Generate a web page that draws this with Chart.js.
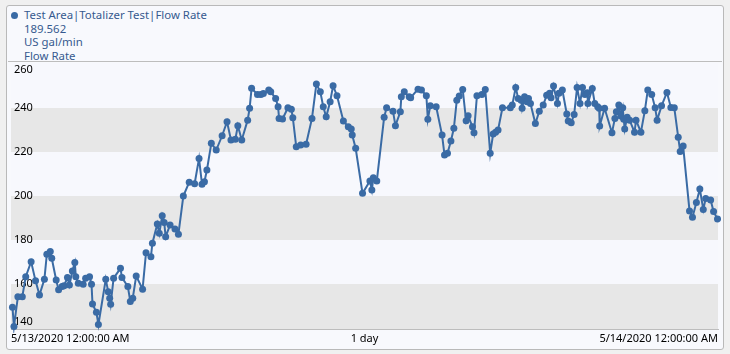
<!DOCTYPE html>
<html><head><meta charset="utf-8">
<script src="https://cdn.jsdelivr.net/npm/chart.js@4/dist/chart.umd.min.js"></script>
<style>
html,body{margin:0;padding:0;background:#f0f0f0;width:730px;height:354px;overflow:hidden;font-family:"Noto Sans",sans-serif;}
#panel{position:absolute;left:6px;top:5px;width:716px;height:343px;border:1px solid #b9b9b9;border-radius:3px;background:#f8f9fd;}
#dot{position:absolute;left:10.5px;top:11.5px;width:7px;height:7px;border-radius:50%;background:#3a6ba5;}
#legend{position:absolute;left:24px;top:8px;font-size:11.4px;line-height:13.5px;color:#36598f;white-space:nowrap;}
#sep{position:absolute;left:8px;top:61px;width:714px;height:1px;background:#bdbdbd;}
#wrap{position:absolute;left:8px;top:63px;width:713px;height:285px;}
</style>
</head><body>
<div id="panel"></div>
<div id="dot"></div>
<div id="legend"><div id="l1"></div><div id="l2"></div><div id="l3"></div><div id="l4"></div></div>
<div id="sep"></div>
<div id="wrap"><canvas id="c"></canvas></div>
<script>
// minutes since 5/13/2020 00:00
const times = [
 3,6,14,23,30,41,50,58,68,73,
 80,83,92,97,104,108,115,119,125,130,
 132,137,147,152,160,164,166,174,178,193,
 198,201,203,209,223,226,238,243,248,255,
 268,275,285,288,298,302,308,312,315,324,
 334,341,351,363,374,383,389,394,399,408,
 418,430,440,448,457,462,470,482,486,490,
 502,509,514,525,529,539,544,546,553,564,
 571,574,581,590,601,613,622,630,636,642,
 650,656,664,677,687,693,695,702,716,731,
 735,738,745,760,765,778,783,793,795,801,
 811,814,829,836,846,849,854,866,878,883,
 889,896,902,908,913,920,927,931,940,943,
 949,959,966,976,982,987,992,1001,1017,1021,
 1028,1033,1039,1041,1046,1051,1054,1058,1068,1076,
 1084,1091,1097,1100,1105,1113,1116,1123,1132,1135,
 1141,1147,1153,1159,1164,1169,1174,1175,1184,1189,
 1195,1198,1199,1209,1224,1230,1233,1238,1242,1246,
 1248,1250,1255,1260,1270,1273,1283,1291,1297,1305,
 1312,1316,1325,1336,1344,1351,1359,1363,1369,1382,
 1388,1396,1403,1410,1415,1425,1431,1439
];
const flow = [
 149.4,140.6,154.2,154.2,163.3,170.1,161.4,155.0,162.1,173.5,
 174.7,171.7,161.8,157.3,158.8,159.2,162.9,159.5,165.9,169.7,
 163.3,160.3,159.9,162.6,163.3,159.9,150.9,147.1,141.5,162.1,
 156.5,153.5,150.8,162.6,167.1,162.9,158.8,152.0,153.5,163.6,
 157.6,174.2,172.4,178.5,187.3,183.0,191.0,188.0,181.5,186.8,
 185.0,182.6,200.0,206.3,205.6,217.1,205.3,206.5,211.8,224.0,
 220.9,227.4,233.8,225.5,225.8,232.0,225.5,234.5,239.9,249.0,
 246.2,246.2,246.6,248.2,247.4,244.4,240.6,235.3,235.0,240.1,
 239.5,235.6,222.4,223.2,223.5,235.3,250.9,247.4,240.6,236.0,
 242.9,250.1,245.6,234.1,231.5,230.5,227.7,221.7,201.2,206.8,
 202.7,208.3,206.8,235.8,240.1,238.6,232.0,238.3,245.1,247.4,
 245.1,244.7,248.6,248.2,245.6,234.9,241.0,240.6,227.7,218.6,
 219.4,225.0,230.8,243.6,245.5,248.5,234.2,236.5,231.5,228.8,
 245.6,246.2,248.5,219.4,228.2,229.0,230.0,240.1,240.1,241.4,
 249.4,244.4,243.6,239.9,245.1,242.9,244.4,242.1,233.0,238.6,
 241.4,245.8,246.7,244.7,250.0,242.1,246.7,248.2,237.3,234.1,
 233.3,237.1,249.4,242.1,249.4,246.2,247.0,242.1,248.9,242.1,
 240.6,239.9,231.8,239.9,228.8,235.3,238.3,241.4,236.4,240.1,
 234.9,230.5,235.8,234.5,229.0,234.5,229.0,238.8,248.2,246.2,
 240.1,234.5,241.0,247.1,240.3,240.1,226.7,220.2,222.7,193.2,
 190.3,197.0,203.2,193.9,198.9,198.2,192.9,189.562
];
const seriesName = 'Test Area|Totalizer Test|Flow Rate';
const unitName = 'US gal/min';
const measureName = 'Flow Rate';
const yTicks = [140,160,180,200,220,240,260];
const xTickValues = [0,720,1440];
const xTickLabels = ['5/13/2020 12:00:00 AM','1 day','5/14/2020 12:00:00 AM'];

document.getElementById('l1').textContent = seriesName;
document.getElementById('l2').textContent = flow[flow.length-1].toFixed(3);
document.getElementById('l3').textContent = unitName;
document.getElementById('l4').textContent = measureName;

const LIGHT = '#f7f8fd', GREY = '#e7e7e7';
const FONT = {family:'"Noto Sans", sans-serif', size:11};

const bands = {
  id:'bands',
  beforeDraw(chart){
    const {ctx, chartArea:{left,right,top,bottom}, scales:{y}} = chart;
    ctx.save();
    ctx.fillStyle = LIGHT;
    ctx.fillRect(left, top, right-left, bottom-top);
    ctx.fillStyle = GREY;
    for (let i=0;i<yTicks.length-1;i+=2){
      let y1 = y.getPixelForValue(yTicks[i]);
      const y2 = y.getPixelForValue(yTicks[i+1]);
      if (i===0) y1 = bottom;
      ctx.fillRect(left, Math.round(y2), right-left, Math.round(y1)-Math.round(y2));
    }
    ctx.restore();
  },
  beforeDatasetsDraw(chart){
    const {ctx, chartArea:{left,top,bottom}, scales:{y}} = chart;
    ctx.save();
    ctx.font = '11px "Noto Sans", sans-serif';
    ctx.fillStyle = '#000';
    ctx.textAlign = 'left';
    ctx.textBaseline = 'middle';
    y.ticks.forEach(t=>{
      let py = y.getPixelForValue(t.value);
      py = Math.min(Math.max(py, top+7), bottom-7);
      ctx.fillText(String(t.value), left+3, py);
    });
    ctx.restore();
  }
};

new Chart(document.getElementById('c'), {
  type:'line',
  data:{datasets:[{
    label: seriesName,
    data: times.map((t,i)=>({x:t, y:flow[i]})),
    borderColor:'#3a6ba5',
    backgroundColor:'#3a6ba5',
    borderWidth:2,
    pointRadius:3.5,
    pointBorderWidth:0,
    tension:0,
    fill:false,
    clip:4
  }]},
  options:{
    responsive:true,
    maintainAspectRatio:false,
    animation:false,
    layout:{padding:0, autoPadding:false},
    plugins:{legend:{display:false}, tooltip:{enabled:false}},
    scales:{
      x:{
        type:'linear', min:0, max:1440,
        afterBuildTicks:(s)=>{ s.ticks = xTickValues.map(v=>({value:v})); },
        afterFit:(s)=>{ s.height = 19; },
        grid:{display:false, drawTicks:false},
        border:{display:true, color:'#bdbdbd'},
        ticks:{
          autoSkip:false, maxRotation:0, minRotation:0, align:'inner', padding:3,
          color:'#000', font:FONT,
          callback:(v,i)=>xTickLabels[i]
        }
      },
      y:{
        type:'linear', min:139.5, max:260.5,
        afterBuildTicks:(s)=>{ s.ticks = yTicks.map(v=>({value:v})); },
        afterFit:(s)=>{ s.width = 0; },
        grid:{display:false, drawTicks:false},
        border:{display:false},
        ticks:{display:false}
      }
    }
  },
  plugins:[bands]
});
</script>
</body></html>
